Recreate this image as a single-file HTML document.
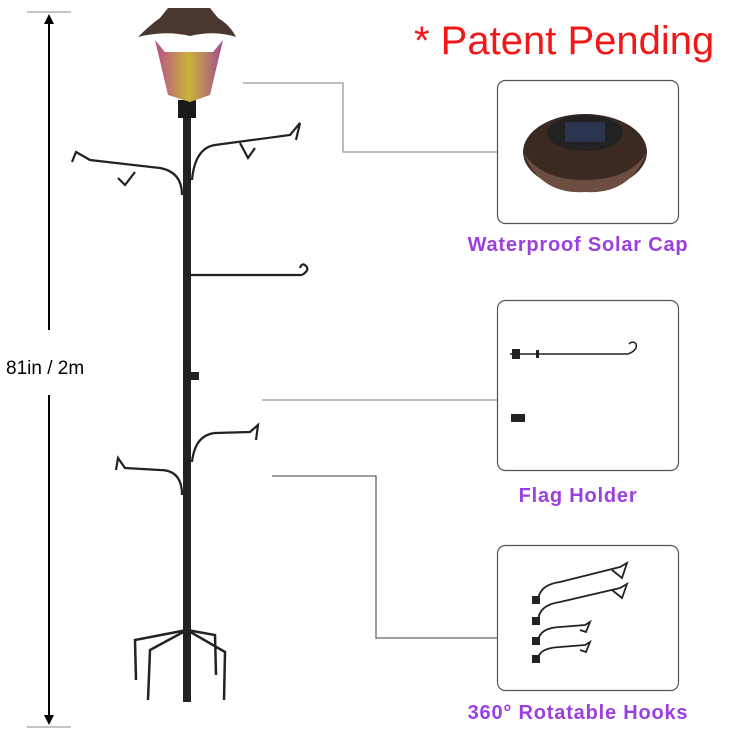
<!DOCTYPE html>
<html><head><meta charset="utf-8"><style>
body{margin:0;background:#fff;width:750px;height:750px;overflow:hidden;font-family:"Liberation Sans",sans-serif}
.lbl{position:absolute;color:#9a3fe0;font-weight:bold;font-size:20px;letter-spacing:0.8px;text-align:center;width:280px}
</style></head><body>
<svg width="750" height="750" style="position:absolute;left:0;top:0">
<defs><linearGradient id="g" x1="0" x2="1"><stop offset="0" stop-color="#b84e8e"/><stop offset=".5" stop-color="#c9b33a"/><stop offset="1" stop-color="#a44a92"/></linearGradient></defs>
<line x1="27" y1="12" x2="71" y2="12" stroke="#888" stroke-width="1"/>
<line x1="27" y1="727" x2="71" y2="727" stroke="#888" stroke-width="1"/>
<line x1="49" y1="20" x2="49" y2="330" stroke="#000" stroke-width="2"/>
<line x1="49" y1="395" x2="49" y2="718" stroke="#000" stroke-width="2"/>
<polygon points="49,14 44,24 54,24" fill="#000"/>
<polygon points="49,725 44,715 54,715" fill="#000"/>
<text x="6" y="374" font-size="19" font-family="Liberation Sans">81in / 2m</text>
<polyline points="243,83 343,83 343,152 497,152" fill="none" stroke="#999" stroke-width="1.3"/>
<line x1="262" y1="400" x2="497" y2="400" stroke="#999" stroke-width="1.3"/>
<polyline points="272,476 376,476 376,638 497,638" fill="none" stroke="#666" stroke-width="1.3"/>
<rect x="497.5" y="80.5" width="181" height="143" rx="8" fill="#fff" stroke="#555" stroke-width="1.2"/>
<rect x="497.5" y="300.5" width="181" height="170" rx="8" fill="#fff" stroke="#555" stroke-width="1.2"/>
<rect x="497.5" y="545.5" width="181" height="145" rx="8" fill="#fff" stroke="#555" stroke-width="1.2"/>
<ellipse cx="585" cy="152" rx="62" ry="38" fill="#3a2a22"/>
<path d="M523 152 Q540 195 585 192 Q630 195 647 152 Q630 180 585 180 Q540 180 523 152Z" fill="#6b4e40"/>
<ellipse cx="585" cy="133" rx="38" ry="18" fill="#222"/>
<rect x="565" y="122" width="40" height="20" fill="#2b3550"/>
<line x1="510" y1="354" x2="628" y2="354" stroke="#222" stroke-width="1.5"/>
<rect x="512" y="349" width="8" height="10" fill="#222"/><rect x="536" y="350" width="3" height="8" fill="#222"/>
<path d="M628 354 Q638 350 636 344 Q633 340 629 344" fill="none" stroke="#222" stroke-width="1.5"/>
<rect x="511" y="414" width="14" height="8" fill="#222"/>
<g fill="none" stroke="#222" stroke-width="1.8">
<path d="M538 602 Q538 585 560 582 L620 567 L627 563 L622 578 L612 570"/>
<path d="M538 622 Q538 605 560 602 L620 588 L627 584 L622 598 L612 590"/>
<path d="M538 643 Q538 628 560 627 L585 625 L590 622 L586 632 L580 630"/>
<path d="M538 660 Q538 648 560 647 L585 645 L590 642 L586 652 L580 650"/>
</g>
<g fill="#222"><rect x="532" y="596" width="8" height="8"/><rect x="532" y="617" width="8" height="8"/><rect x="532" y="637" width="8" height="8"/><rect x="532" y="655" width="8" height="8"/></g>
<rect x="183" y="112" width="8" height="590" fill="#222"/>
<rect x="178" y="100" width="18" height="18" fill="#1a1a1a"/>
<path d="M155 40 L165 52 L213 52 L223 40 L210 95 L190 102 L168 95 Z" fill="url(#g)"/>
<path d="M138 37 Q150 25 160 18 L168 8 L210 8 L218 18 Q230 25 236 37 Q215 30 190 36 Q165 30 138 37Z" fill="#4a3830"/>
<g fill="none" stroke="#222" stroke-width="2.2">
<path d="M182 195 Q182 172 160 168 L90 160 L76 152 L72 162"/>
<path d="M135 172 L125 185 L118 178"/>
<path d="M192 180 Q195 148 215 145 L290 135 L300 123 L296 140"/>
<path d="M240 143 L248 158 L255 148"/>
<path d="M182 495 Q182 470 160 470 L125 468 L118 458 L116 470"/>
<path d="M192 462 Q195 435 215 433 L250 432 L258 425 L256 440"/>
<path d="M191 275 L302 275"/><path d="M302 275 Q310 270 306 266 Q302 262 300 268"/>
</g>
<rect x="185" y="372" width="14" height="8" fill="#222"/>
<g fill="none" stroke="#222" stroke-width="2.5">
<path d="M187 630 L150 650 L148 700"/><path d="M187 630 L225 652 L224 700"/>
<path d="M187 630 L135 640 L136 680"/><path d="M187 630 L215 635 L216 675"/>
</g>
</svg>
<div style="position:absolute;left:414px;top:19px;color:#f01818;font-size:40px">* Patent Pending</div>
<div class="lbl" style="left:438px;top:234px">Waterproof Solar Cap</div>
<div class="lbl" style="left:438px;top:485px">Flag Holder</div>
<div class="lbl" style="left:438px;top:702px">360° Rotatable Hooks</div>
</body></html>
